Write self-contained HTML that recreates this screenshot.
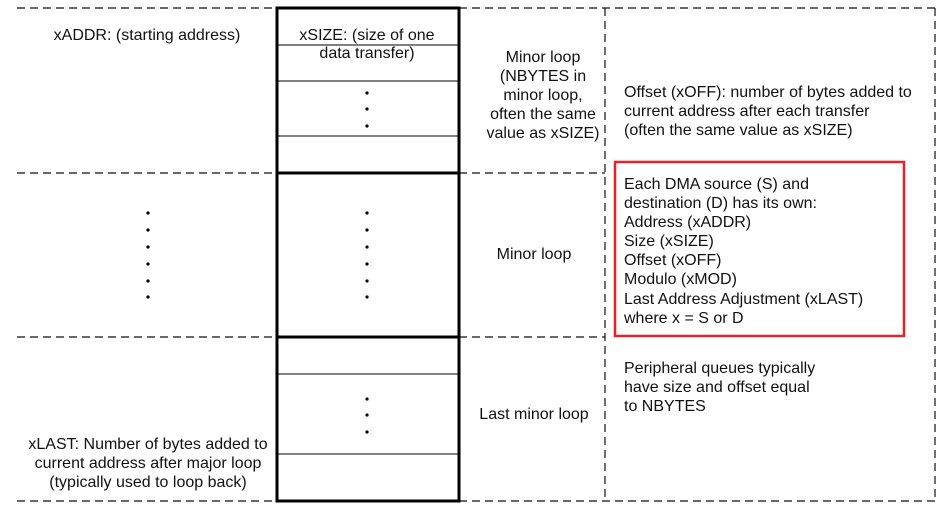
<!DOCTYPE html>
<html><head><meta charset="utf-8"><style>
html,body{margin:0;padding:0;background:#fff;}
svg{display:block;}
text{font-family:"Liberation Sans",Arial,sans-serif;font-size:16px;fill:#111;}
</style></head><body>
<svg width="946" height="514" viewBox="0 0 946 514" xmlns="http://www.w3.org/2000/svg">
<g stroke="#111" stroke-width="1.2" stroke-dasharray="8,5" fill="none">
<line x1="17" y1="8" x2="935" y2="8"/>
<line x1="17" y1="173" x2="605" y2="173"/>
<line x1="17" y1="337" x2="605" y2="337"/>
<line x1="17" y1="501" x2="935" y2="501"/>
<line x1="605" y1="8" x2="605" y2="501"/>
<line x1="935" y1="8" x2="935" y2="501"/>
</g>
<g stroke="#000" fill="none">
<rect x="277" y="8" width="182" height="493" stroke-width="3"/>
<line x1="277" y1="173" x2="459" y2="173" stroke-width="3"/>
<line x1="277" y1="337" x2="459" y2="337" stroke-width="3"/>
<line x1="277" y1="45" x2="459" y2="45" stroke-width="1"/>
<line x1="277" y1="81" x2="459" y2="81" stroke-width="1"/>
<line x1="277" y1="136" x2="459" y2="136" stroke-width="1"/>
<line x1="277" y1="374" x2="459" y2="374" stroke-width="1"/>
<line x1="277" y1="454" x2="459" y2="454" stroke-width="1"/>
</g>
<rect x="615" y="162" width="289" height="174" fill="none" stroke="#e8202a" stroke-width="2.5"/>
<g fill="#000">
<circle cx="367" cy="93" r="1.6"/><circle cx="367" cy="109" r="1.6"/><circle cx="367" cy="126" r="1.6"/>
<circle cx="367" cy="399" r="1.6"/><circle cx="367" cy="415" r="1.6"/><circle cx="367" cy="432" r="1.6"/>
<circle cx="148" cy="213" r="1.6"/><circle cx="148" cy="230" r="1.6"/><circle cx="148" cy="247" r="1.6"/><circle cx="148" cy="264" r="1.6"/><circle cx="148" cy="281" r="1.6"/><circle cx="148" cy="297" r="1.6"/>
<circle cx="367" cy="213" r="1.6"/><circle cx="367" cy="230" r="1.6"/><circle cx="367" cy="247" r="1.6"/><circle cx="367" cy="264" r="1.6"/><circle cx="367" cy="281" r="1.6"/><circle cx="367" cy="297" r="1.6"/>
</g>
<g text-anchor="middle">
<text x="147" y="40">xADDR: (starting address)</text>
<text x="367" y="40">xSIZE: (size of one</text>
<text x="367" y="58">data transfer)</text>
<text x="543" y="62">Minor loop</text>
<text x="543" y="81">(NBYTES in</text>
<text x="543" y="100">minor loop,</text>
<text x="543" y="119">often the same</text>
<text x="543" y="138">value as xSIZE)</text>
<text x="534" y="259">Minor loop</text>
<text x="534" y="419">Last minor loop</text>
<text x="148" y="449">xLAST: Number of bytes added to</text>
<text x="148" y="468">current address after major loop</text>
<text x="148" y="487">(typically used to loop back)</text>
</g>
<g>
<text x="624" y="97">Offset (xOFF): number of bytes added to</text>
<text x="624" y="116">current address after each transfer</text>
<text x="624" y="135">(often the same value as xSIZE)</text>
<text x="624" y="189">Each DMA source (S) and</text>
<text x="624" y="208">destination (D) has its own:</text>
<text x="624" y="227">Address (xADDR)</text>
<text x="624" y="246">Size (xSIZE)</text>
<text x="624" y="265">Offset (xOFF)</text>
<text x="624" y="284">Modulo (xMOD)</text>
<text x="624" y="304">Last Address Adjustment (xLAST)</text>
<text x="624" y="323">where x = S or D</text>
<text x="624" y="373">Peripheral queues typically</text>
<text x="624" y="392">have size and offset equal</text>
<text x="624" y="411">to NBYTES</text>
</g>
</svg>
</body></html>
